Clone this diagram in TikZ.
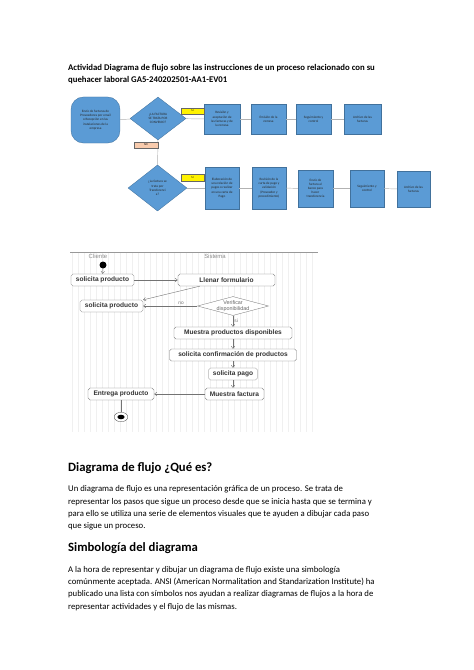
\documentclass[tikz,border=0pt]{standalone}
\usepackage{fontspec}
\setmainfont{Carlito}
\newfontfamily\umlfont{Liberation Sans}
\usepackage{xcolor}
\usetikzlibrary{shapes.geometric, arrows.meta, positioning}

\definecolor{flowblue}{HTML}{5B9BD5}
\definecolor{flowedge}{HTML}{41719C}
\definecolor{notag}{HTML}{F8CBAD}

\begin{document}
\begin{tikzpicture}[
  x=0.0443cm, y=-0.0443cm,
  font=\fontsize{11}{15.6}\selectfont,
  para/.style={anchor=north west, inner sep=0pt, align=left},
  proc/.style={draw=flowedge, fill=flowblue, minimum width=1.58cm,
               minimum height=1.33cm, inner sep=0.5pt, align=center,
               font=\fontsize{4.2}{5.2}\selectfont, text=black!85},
  startbox/.style={proc, rounded corners=0.55cm, minimum width=2.17cm,
               minimum height=2.04cm},
  dec/.style={diamond, draw=flowedge, fill=flowblue, inner sep=0pt,
              align=center, font=\fontsize{4.2}{5.2}\selectfont, text=black!85},
  tag/.style={draw=black!60, minimum width=1.02cm, minimum height=0.29cm,
              inner sep=0pt, font=\fontsize{3.6}{4}\selectfont},
  flow/.style={draw=black!30, line width=0.6pt},
  act/.style={draw=black!55, rounded corners=2.5pt, fill=white,
              minimum height=0.53cm, inner sep=1pt,
              font=\umlfont\bfseries\fontsize{8.3}{9}\selectfont, text=black!80},
  ctl/.style={-{Straight Barb[length=3pt, width=4.5pt]}, draw=black!55, line width=0.5pt},
  lane/.style={font=\umlfont\fontsize{7.5}{8}\selectfont, text=black!45, inner sep=0pt},
  lbl/.style={font=\umlfont\fontsize{6}{7}\selectfont, text=black!55, inner sep=1.5pt}
]
  \useasboundingbox[fill=white] (0,0) rectangle (474,670);

  % Title
  \node[para, font=\bfseries\fontsize{11}{16}\selectfont] (title) at (68,64)
    {Actividad Diagrama de flujo sobre las instrucciones de un proceso relacionado con su\\
     quehacer laboral GA5-240202501-AA1-EV01};

  % Flowchart, first row
  \node[startbox] (src) at (95.5,120)
    {Envío de facturas de\\Proveedores por email\\o Recepción en las\\instalaciones de la\\empresa};
  \node[dec, minimum width=2.48cm, minimum height=1.9cm] (q1) at (158,118.5)
    {¿LA FACTURA\\SE TRATA POR\\CONVENIO?};
  \node[proc] (rev)  at (222,119)   {Revisión y\\aceptación de\\las facturas y de\\la remesa};
  \node[proc] (emi)  at (268.5,119) {Emisión de la\\remesa};
  \node[proc] (seg1) at (313.5,119) {Seguimiento y\\control};
  \node[proc, minimum width=1.64cm] (arc1) at (362.5,119) {Archivo de las\\facturas};

  % Flowchart, second row
  \node[dec, minimum width=2.61cm, minimum height=2.04cm] (q2) at (157.5,188)
    {¿La factura se\\trata por\\Transferenci\\a?};
  \node[proc, minimum width=1.51cm, minimum height=1.86cm] (ela) at (222,188)
    {Elaboración de\\una relación de\\pagos o realizar\\en una carta de\\Pago};
  \node[proc, minimum width=1.51cm, minimum height=1.86cm] (val) at (269,188)
    {Revisión de la\\carta de pago y\\validación\\(Proveedor y\\procedimiento)};
  \node[proc, minimum width=1.55cm, minimum height=1.64cm] (env) at (315.5,188.5)
    {Envío de\\factura al\\banco para\\hacer\\transferencia};
  \node[proc, minimum width=1.51cm, minimum height=1.64cm] (seg2) at (367,188.5)
    {Seguimiento y\\control};
  \node[proc, minimum width=1.46cm, minimum height=1.6cm] (arc2) at (413.5,189)
    {Archivo de las\\facturas};

  % Flow lines
  \draw[flow] (src) -- (q1);
  \draw[flow] (q1) -- (rev);
  \draw[flow] (rev) -- (emi);
  \draw[flow] (emi) -- (seg1);
  \draw[flow] (seg1) -- (arc1);
  \draw[flow] (q1) -- (q2);
  \draw[flow] (q2) -- (ela);
  \draw[flow] (ela) -- (val);
  \draw[flow] (val) -- (env);
  \draw[flow] (env) -- (seg2);
  \draw[flow] (seg2) -- (arc2);

  % SI / NO tags
  \node[tag, fill=yellow] (si1) at (192.5,111) {SI};
  \node[tag, fill=yellow] (si2) at (192.5,177.5) {SI};
  \node[tag, fill=notag, minimum width=1.06cm, minimum height=0.27cm] (no1) at (146,145) {NO};

  % Activity diagram: lanes
  \foreach \x in {72,78,...,316}
    \draw[black!6] (\x,253) -- (\x,432);
  \draw[black!40] (70,252) -- (318,252);
  \node[lane] (hcli) at (98,256.5) {Cliente};
  \node[lane] (hsys) at (215,256.5) {Sistema};

  % Activity diagram: nodes
  \node[circle, fill=black, inner sep=0pt, minimum size=0.31cm] (init) at (103,265) {};
  \node[act, minimum width=2.79cm] (sol1)   at (102.5,280) {solicita producto};
  \node[act, minimum width=4.3cm]  (fill)   at (226.5,280) {Llenar formulario};
  \node[act, minimum width=2.79cm] (sol2)   at (111.5,306) {solicita producto};
  \node[diamond, draw=black!55, fill=white, inner sep=0pt, minimum width=3.15cm,
        minimum height=0.84cm,
        label={[align=center, font=\umlfont\fontsize{6.8}{7}\selectfont, text=black!60]center:Verificar\\disponibilidad}]
        (ver) at (233,306) {};
  \node[act, minimum width=5.23cm] (mprod)  at (233,333) {Muestra productos disponibles};
  \node[act, minimum width=5.63cm] (conf)   at (233,355) {solicita confirmación de productos};
  \node[act, minimum width=2.17cm] (pago)   at (233,374) {solicita pago};
  \node[act, minimum width=2.61cm] (fact)   at (234.5,394) {Muestra factura};
  \node[act, minimum width=2.92cm] (entr)   at (121,394) {Entrega producto};
  \node[ellipse, draw=black!70, fill=white, inner sep=0pt, minimum width=0.6cm,
        minimum height=0.42cm,
        path picture={\fill[black] (path picture bounding box.center) ellipse (0.16cm and 0.1cm);}]
        (final) at (121,417) {};

  % Activity diagram: control flow
  \draw[ctl] (init) -- (sol1);
  \draw[ctl] (sol1) -- (fill);
  \draw[ctl] (fill.193) -- (sol2.north east);
  \draw[ctl] (ver) -- node[lbl, pos=0.3, above]{no} (sol2);
  \draw[ctl] (ver) -- node[lbl, right]{si} (mprod);
  \draw[ctl] (mprod) -- (conf);
  \draw[ctl] (conf) -- (pago);
  \draw[ctl] (pago) -- (pago |- fact.north);
  \draw[ctl] (fact) -- (entr);
  \draw[draw=black!55, line width=0.5pt] (entr) -- (final);

  % Text below
  \node[para, font=\bfseries\fontsize{16}{19}\selectfont] (h1) at (68,462)
    {Diagrama de flujo ¿Qué es?};
  \node[para] (p1) at (68,485.5)
    {Un diagrama de flujo es una representación gráfica de un proceso. Se trata de\\
     representar los pasos que sigue un proceso desde que se inicia hasta que se termina y\\
     para ello se utiliza una serie de elementos visuales que te ayuden a dibujar cada paso\\
     que sigue un proceso.};
  \node[para, font=\bfseries\fontsize{16}{19}\selectfont] (h2) at (68,542.5)
    {Simbología del diagrama};
  \node[para] (p2) at (68,566)
    {A la hora de representar y dibujar un diagrama de flujo existe una simbología\\
     comúnmente aceptada. ANSI (American Normalitation and Standarization Institute) ha\\
     publicado una lista con símbolos nos ayudan a realizar diagramas de flujos a la hora de\\
     representar actividades y el flujo de las mismas.};
\end{tikzpicture}
\end{document}
